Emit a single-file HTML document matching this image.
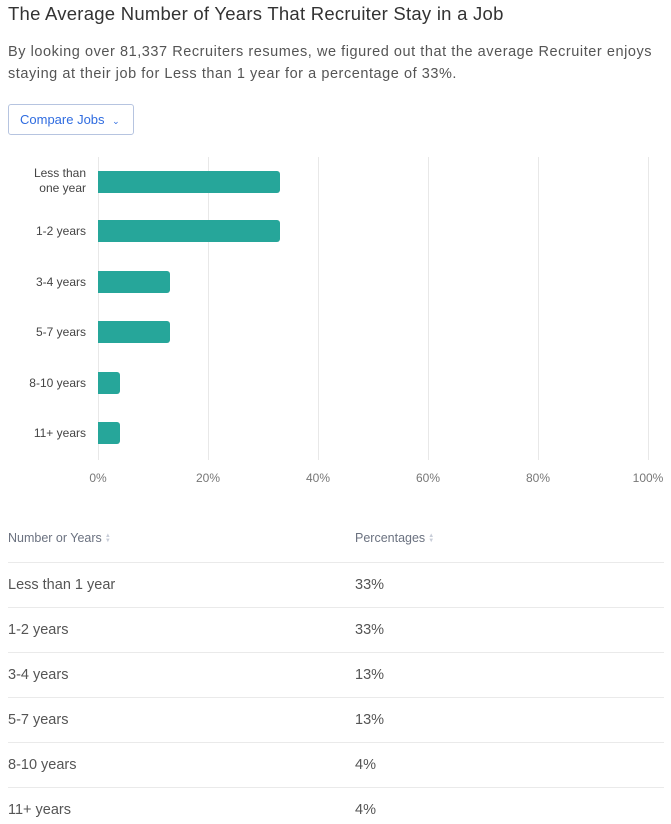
<!DOCTYPE html>
<html><head><style>
body{margin:0;width:671px;height:824px;background:#fff;font-family:"Liberation Sans",sans-serif;position:relative;overflow:hidden;color:#333}
.a{position:absolute;white-space:nowrap}
.g{position:absolute;top:157px;height:303px;width:1px;background:#e8e8e8}
.bar{position:absolute;left:98px;height:22px;background:#26a69a;border-radius:0 3px 3px 0}
.lab{position:absolute;right:585px;font-size:12px;color:#444;text-align:right;line-height:15px}
.tk{position:absolute;top:471px;font-size:12px;color:#777;width:40px;margin-left:-20px;text-align:center}
.hl{position:absolute;left:8px;width:656px;height:1px;background:#eaeaea}
.td{position:absolute;font-size:14.5px;color:#555}
.s{display:inline-block;vertical-align:middle;margin-left:3px;font-size:6px;line-height:5px;color:#c8cdd8}
</style></head><body>
<div class="a" style="left:8px;top:3px;font-size:18.5px;color:#333;letter-spacing:0.25px">The Average Number of Years That Recruiter Stay in a Job</div>
<div class="a" style="left:8px;top:41px;font-size:14.5px;color:#555;line-height:22px;letter-spacing:0.55px">By looking over 81,337 Recruiters resumes, we figured out that the average Recruiter enjoys<br>staying at their job for Less than 1 year for a percentage of 33%.</div>
<div class="a" style="left:8px;top:104px;width:124px;height:29px;border:1px solid #b6c4e0;border-radius:3px;font-size:13px;color:#2f6ce0;line-height:29px;text-indent:11px">Compare Jobs <span style="font-size:9px;margin-left:4px">&#8964;</span></div>
<div class="g" style="left:98px"></div><div class="g" style="left:208px"></div><div class="g" style="left:318px"></div><div class="g" style="left:428px"></div><div class="g" style="left:538px"></div><div class="g" style="left:648px"></div>
<div class="bar" style="top:171px;width:182px"></div>
<div class="bar" style="top:220px;width:182px"></div>
<div class="bar" style="top:271px;width:72px"></div>
<div class="bar" style="top:321px;width:72px"></div>
<div class="bar" style="top:372px;width:22px"></div>
<div class="bar" style="top:422px;width:22px"></div>
<div class="lab" style="top:166px">Less than<br>one year</div>
<div class="lab" style="top:224px">1-2 years</div>
<div class="lab" style="top:275px">3-4 years</div>
<div class="lab" style="top:325px">5-7 years</div>
<div class="lab" style="top:376px">8-10 years</div>
<div class="lab" style="top:426px">11+ years</div>
<div class="tk" style="left:98px">0%</div><div class="tk" style="left:208px">20%</div><div class="tk" style="left:318px">40%</div><div class="tk" style="left:428px">60%</div><div class="tk" style="left:538px">80%</div><div class="tk" style="left:648px">100%</div>
<div class="a" style="left:8px;top:531px;font-size:12.5px;color:#6b7280">Number or Years<span class="s">&#9650;<br>&#9660;</span></div>
<div class="a" style="left:355px;top:531px;font-size:12.5px;color:#6b7280">Percentages<span class="s">&#9650;<br>&#9660;</span></div>
<div class="hl" style="top:562px"></div><div class="hl" style="top:607px"></div><div class="hl" style="top:652px"></div><div class="hl" style="top:697px"></div><div class="hl" style="top:742px"></div><div class="hl" style="top:787px"></div>
<div class="td" style="left:8px;top:577px">Less than 1 year</div><div class="td" style="left:355px;top:577px">33%</div>
<div class="td" style="left:8px;top:622px">1-2 years</div><div class="td" style="left:355px;top:622px">33%</div>
<div class="td" style="left:8px;top:667px">3-4 years</div><div class="td" style="left:355px;top:667px">13%</div>
<div class="td" style="left:8px;top:712px">5-7 years</div><div class="td" style="left:355px;top:712px">13%</div>
<div class="td" style="left:8px;top:757px">8-10 years</div><div class="td" style="left:355px;top:757px">4%</div>
<div class="td" style="left:8px;top:802px">11+ years</div><div class="td" style="left:355px;top:802px">4%</div>
</body></html>
